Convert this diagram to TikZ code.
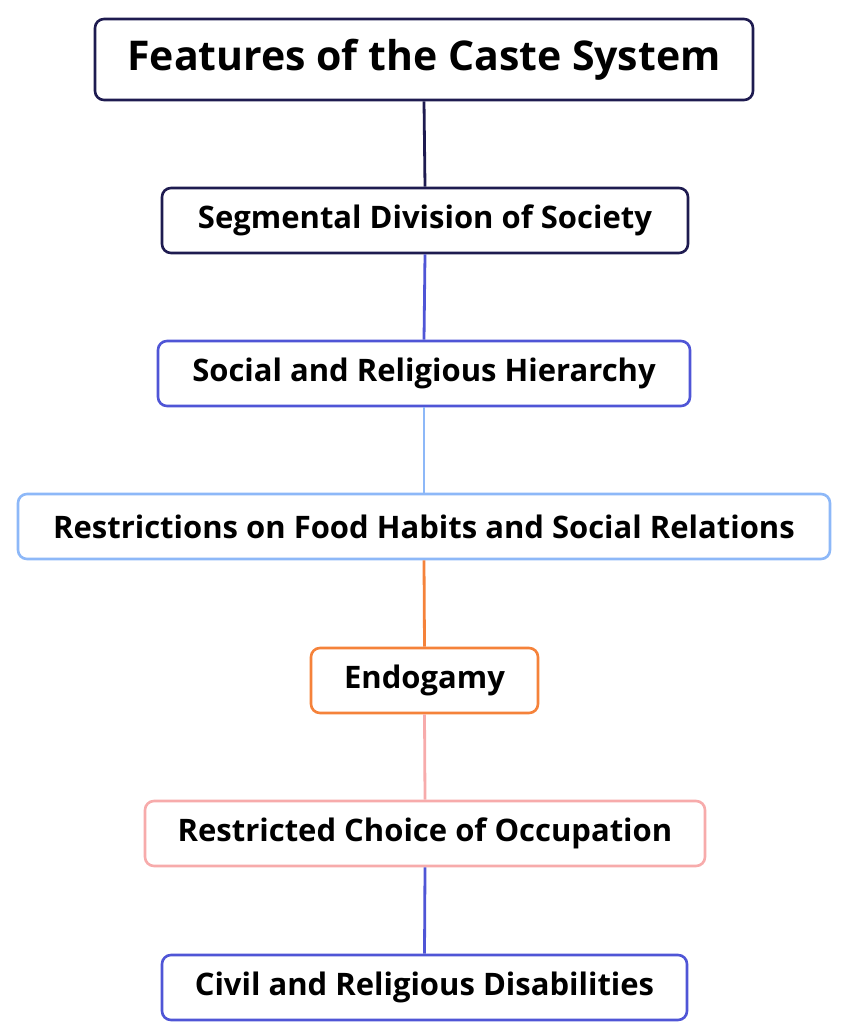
\documentclass[tikz,border=0pt]{standalone}
\usepackage{fontspec}
\setmainfont{Open Sans}
\definecolor{navy}{HTML}{1E1B50}
\definecolor{bluep}{HTML}{4F55D6}
\definecolor{lblue}{HTML}{8DB8F8}
\definecolor{orng}{HTML}{F5823A}
\definecolor{pnk}{HTML}{F7ABAB}
\begin{document}
\begin{tikzpicture}[x=1pt,y=-1pt,
  box/.style={draw=#1,line width=2.6pt,rounded corners=9pt,fill=white,inner sep=0pt,font=\bfseries\fontsize{31}{36}\selectfont,text=black,minimum height=65pt},
  conn/.style={draw=#1,line width=2.8pt}]
\useasboundingbox (0,0) rectangle (849,1024);
\node[box=navy,minimum width=658pt,minimum height=81pt,font=\bfseries\fontsize{41}{48}\selectfont] (t) at (424,59.5) {Features of the Caste System};
\node[box=navy,minimum width=526pt] (a) at (425,220.5) {Segmental Division of Society};
\node[box=bluep,minimum width=532pt] (b) at (424,373.5) {Social and Religious Hierarchy};
\node[box=lblue,minimum width=812pt] (c) at (424,526.5) {Restrictions on Food Habits and Social Relations};
\node[box=orng,minimum width=227pt] (d) at (424.5,680.5) {Endogamy};
\node[box=pnk,minimum width=560pt] (e) at (425,833.5) {Restricted Choice of Occupation};
\node[box=bluep,minimum width=525pt] (f) at (424.5,987.5) {Civil and Religious Disabilities};
\draw[conn=navy] (t.south) -- (a.north);
\draw[conn=bluep] (a.south) -- (b.north);
\draw[conn=lblue] (b.south) -- (c.north);
\draw[conn=orng] (c.south) -- (d.north);
\draw[conn=pnk] (d.south) -- (e.north);
\draw[conn=bluep] (e.south) -- (f.north);
\end{tikzpicture}
\end{document}
